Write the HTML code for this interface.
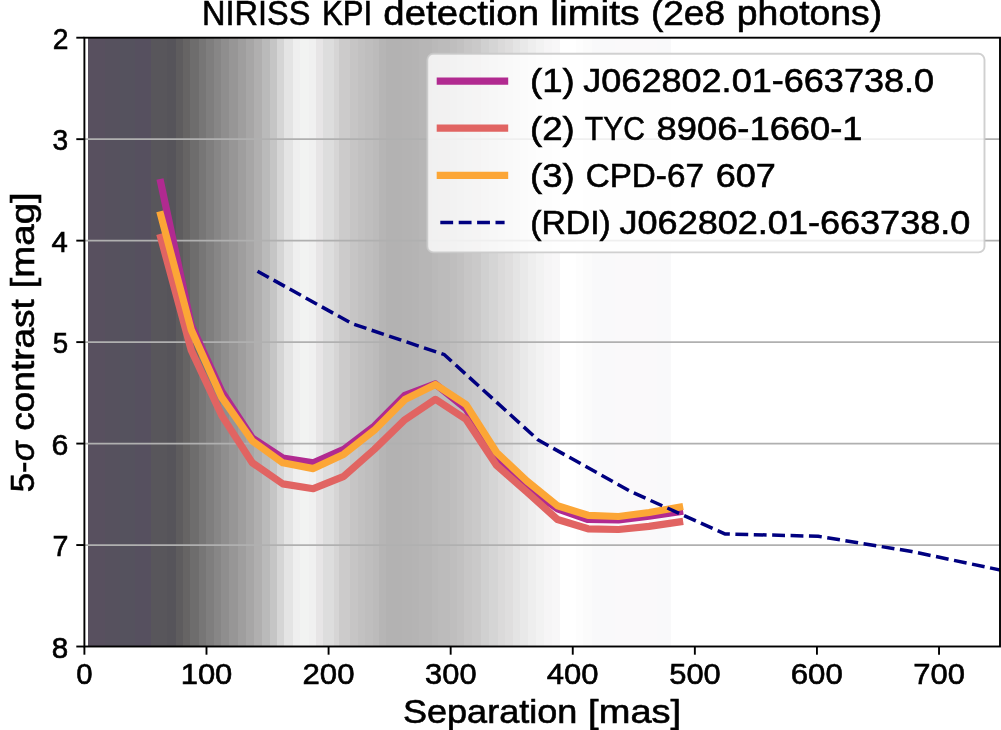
<!DOCTYPE html>
<html><head><meta charset="utf-8"><style>
html,body{margin:0;padding:0;background:#fff;width:1001px;height:730px;overflow:hidden}
svg{display:block;will-change:transform}
text{font-family:"Liberation Sans",sans-serif;fill:#000;stroke:#000;stroke-width:0.6px}
</style></head><body>
<svg width="1001" height="730" viewBox="0 0 1001 730">
<defs><clipPath id="ax"><rect x="84.4" y="37.7" width="915.6" height="608.8"/></clipPath></defs>
<g shape-rendering="crispEdges">
<rect x="88.4" y="37.7" width="16.4" height="608.8" fill="#58505f"/>
<rect x="104.8" y="37.7" width="15.2" height="608.8" fill="#56515e"/>
<rect x="120" y="37.7" width="15" height="608.8" fill="#55525e"/>
<rect x="135" y="37.7" width="16" height="608.8" fill="#56505f"/>
<rect x="151" y="37.7" width="16" height="608.8" fill="#58565b"/>
<rect x="167" y="37.7" width="9" height="608.8" fill="#56545a"/>
<rect x="176" y="37.7" width="7" height="608.8" fill="#5e5c5e"/>
<rect x="183" y="37.7" width="7" height="608.8" fill="#666464"/>
<rect x="190" y="37.7" width="9" height="608.8" fill="#6e6d6d"/>
<rect x="199" y="37.7" width="7" height="608.8" fill="#777676"/>
<rect x="206" y="37.7" width="8" height="608.8" fill="#7f7e7e"/>
<rect x="214" y="37.7" width="7" height="608.8" fill="#878686"/>
<rect x="221" y="37.7" width="8" height="608.8" fill="#8f8e8e"/>
<rect x="229" y="37.7" width="8.5" height="608.8" fill="#979696"/>
<rect x="237.5" y="37.7" width="8.1" height="608.8" fill="#9f9e9e"/>
<rect x="245.6" y="37.7" width="8.5" height="608.8" fill="#a7a6a6"/>
<rect x="254.1" y="37.7" width="7.5" height="608.8" fill="#b0afaf"/>
<rect x="261.6" y="37.7" width="8" height="608.8" fill="#bababa"/>
<rect x="269.6" y="37.7" width="7.5" height="608.8" fill="#c5c5c5"/>
<rect x="277.1" y="37.7" width="6.9" height="608.8" fill="#d5d5d5"/>
<rect x="284" y="37.7" width="8.8" height="608.8" fill="#e4e4e4"/>
<rect x="292.8" y="37.7" width="7.6" height="608.8" fill="#efefef"/>
<rect x="300.4" y="37.7" width="8.3" height="608.8" fill="#f2f3f2"/>
<rect x="308.7" y="37.7" width="7.5" height="608.8" fill="#f0f0f0"/>
<rect x="316.2" y="37.7" width="6.9" height="608.8" fill="#e7e5e6"/>
<rect x="323.1" y="37.7" width="10.4" height="608.8" fill="#dddddd"/>
<rect x="333.5" y="37.7" width="5.6" height="608.8" fill="#d6d5d5"/>
<rect x="339.1" y="37.7" width="11.2" height="608.8" fill="#cccbcb"/>
<rect x="350.3" y="37.7" width="7.2" height="608.8" fill="#c6c5c5"/>
<rect x="357.5" y="37.7" width="7.2" height="608.8" fill="#c2c1c1"/>
<rect x="364.7" y="37.7" width="8" height="608.8" fill="#bfbebe"/>
<rect x="372.7" y="37.7" width="6.4" height="608.8" fill="#bcbbbb"/>
<rect x="379.1" y="37.7" width="6.4" height="608.8" fill="#b6b5b5"/>
<rect x="385.5" y="37.7" width="8.5" height="608.8" fill="#b3b2b2"/>
<rect x="394" y="37.7" width="8" height="608.8" fill="#b3b2b2"/>
<rect x="402" y="37.7" width="9.6" height="608.8" fill="#b4b3b3"/>
<rect x="411.6" y="37.7" width="7.2" height="608.8" fill="#b5b4b4"/>
<rect x="418.8" y="37.7" width="13.6" height="608.8" fill="#b7b6b6"/>
<rect x="432.4" y="37.7" width="5.6" height="608.8" fill="#bab9b9"/>
<rect x="438" y="37.7" width="12" height="608.8" fill="#bcbbbb"/>
<rect x="450" y="37.7" width="7" height="608.8" fill="#bfbebe"/>
<rect x="457" y="37.7" width="7" height="608.8" fill="#c2c1c1"/>
<rect x="464" y="37.7" width="8" height="608.8" fill="#c7c6c6"/>
<rect x="472" y="37.7" width="9" height="608.8" fill="#cac9c9"/>
<rect x="481" y="37.7" width="8" height="608.8" fill="#d0d0d0"/>
<rect x="489" y="37.7" width="9" height="608.8" fill="#d5d5d5"/>
<rect x="498" y="37.7" width="7" height="608.8" fill="#dbdada"/>
<rect x="505" y="37.7" width="8" height="608.8" fill="#dfdede"/>
<rect x="513" y="37.7" width="7" height="608.8" fill="#e4e4e4"/>
<rect x="520" y="37.7" width="8" height="608.8" fill="#e9e9e9"/>
<rect x="528" y="37.7" width="8" height="608.8" fill="#eeeeee"/>
<rect x="536" y="37.7" width="8" height="608.8" fill="#f2f2f2"/>
<rect x="544" y="37.7" width="8" height="608.8" fill="#f6f5f6"/>
<rect x="552" y="37.7" width="8" height="608.8" fill="#f8f7f8"/>
<rect x="576" y="37.7" width="7" height="608.8" fill="#fdfdfd"/>
<rect x="583" y="37.7" width="9" height="608.8" fill="#fbfbfb"/>
<rect x="592" y="37.7" width="7" height="608.8" fill="#f9f9fa"/>
<rect x="599" y="37.7" width="16" height="608.8" fill="#f9f9fa"/>
<rect x="615" y="37.7" width="42" height="608.8" fill="#faf9fa"/>
<rect x="657" y="37.7" width="13.6" height="608.8" fill="#f9f9fa"/>
</g>
<g clip-path="url(#ax)">
<line x1="84.4" y1="139.17" x2="1000" y2="139.17" stroke="#b0b0b0" stroke-width="1.8"/>
<line x1="84.4" y1="240.64" x2="1000" y2="240.64" stroke="#b0b0b0" stroke-width="1.8"/>
<line x1="84.4" y1="342.11" x2="1000" y2="342.11" stroke="#b0b0b0" stroke-width="1.8"/>
<line x1="84.4" y1="443.58" x2="1000" y2="443.58" stroke="#b0b0b0" stroke-width="1.8"/>
<line x1="84.4" y1="545.05" x2="1000" y2="545.05" stroke="#b0b0b0" stroke-width="1.8"/>
<polyline points="160.71,182.5 191.23,325 221.75,391.6 252.27,437.9 282.8,458.1 313.32,462.8 343.84,449.4 374.36,426 404.89,395.3 435.41,384 465.93,408.7 496.45,458.6 526.98,487.3 557.5,508.8 588.02,519.5 618.54,519.9 649.07,516.2 679.59,511.7" fill="none" stroke="#b12a90" stroke-width="7.2" stroke-linejoin="round" stroke-linecap="square"/>
<polyline points="160.71,237.5 191.23,350.3 221.75,415.6 252.27,462.8 282.8,483.9 313.32,488.7 343.84,476.3 374.36,449.4 404.89,419.7 435.41,399.3 465.93,419.2 496.45,465.3 526.98,492.1 557.5,519.5 588.02,528.8 618.54,529.5 649.07,526.4 679.59,521.9" fill="none" stroke="#e16462" stroke-width="7.2" stroke-linejoin="round" stroke-linecap="square"/>
<polyline points="160.71,214.9 191.23,329.7 221.75,397.4 252.27,440.8 282.8,462.8 313.32,468.6 343.84,454.2 374.36,430.2 404.89,399.6 435.41,384.5 465.93,404.4 496.45,452.3 526.98,481.1 557.5,505.8 588.02,515.3 618.54,516.5 649.07,512.5 679.59,507.1" fill="none" stroke="#fca636" stroke-width="7.2" stroke-linejoin="round" stroke-linecap="square"/>
<polyline points="257.5,271.2 352,323.6 444.4,354.7 537.9,439.8 631.3,491.8 724.8,533.9 818.2,536.3 911.7,551.5 1005,571" fill="none" stroke="#000080" stroke-width="3.5" stroke-dasharray="12.85 5.55" stroke-linejoin="round" stroke-linecap="butt"/>
</g>
<rect x="427.3" y="53.8" width="557.2" height="198.6" rx="6" ry="6" fill="#ffffff" fill-opacity="0.8" stroke="#c8c8c8" stroke-opacity="0.85" stroke-width="1.9"/>
<line x1="440.3" y1="81.1" x2="504.6" y2="81.1" stroke="#b12a90" stroke-width="7.2" stroke-linecap="square"/>
<text x="530.13" y="92.40" font-size="33.40" textLength="44.66" lengthAdjust="spacingAndGlyphs">(1)</text><text x="583.31" y="92.40" font-size="33.40" textLength="350.82" lengthAdjust="spacingAndGlyphs">J062802.01-663738.0</text>
<line x1="440.3" y1="128.2" x2="504.6" y2="128.2" stroke="#e16462" stroke-width="7.2" stroke-linecap="square"/>
<text x="530.13" y="139.60" font-size="33.40" textLength="44.66" lengthAdjust="spacingAndGlyphs">(2)</text><text x="584.77" y="139.60" font-size="33.40" textLength="60.30" lengthAdjust="spacingAndGlyphs">TYC</text><text x="656.53" y="139.60" font-size="33.40" textLength="206.07" lengthAdjust="spacingAndGlyphs">8906-1660-1</text>
<line x1="440.3" y1="175.4" x2="504.6" y2="175.4" stroke="#fca636" stroke-width="7.2" stroke-linecap="square"/>
<text x="530.13" y="186.80" font-size="33.40" textLength="44.66" lengthAdjust="spacingAndGlyphs">(3)</text><text x="585.67" y="186.80" font-size="33.40" textLength="118.23" lengthAdjust="spacingAndGlyphs">CPD-67</text><text x="715.65" y="186.80" font-size="33.40" textLength="60.18" lengthAdjust="spacingAndGlyphs">607</text>
<line x1="440.3" y1="222.4" x2="504.6" y2="222.4" stroke="#000080" stroke-width="3.5" stroke-dasharray="12.85 5.55"/>
<text x="530.31" y="234.00" font-size="33.40" textLength="80.53" lengthAdjust="spacingAndGlyphs">(RDI)</text><text x="619.54" y="234.00" font-size="33.40" textLength="350.82" lengthAdjust="spacingAndGlyphs">J062802.01-663738.0</text>
<rect x="84.4" y="37.7" width="915.6" height="608.8" fill="none" stroke="#000" stroke-width="1.9" stroke-linejoin="miter"/>
<g stroke="#000" stroke-width="1.9">
<line x1="84.4" y1="646.5" x2="84.4" y2="654.7"/>
<line x1="206.49" y1="646.5" x2="206.49" y2="654.7"/>
<line x1="328.58" y1="646.5" x2="328.58" y2="654.7"/>
<line x1="450.67" y1="646.5" x2="450.67" y2="654.7"/>
<line x1="572.76" y1="646.5" x2="572.76" y2="654.7"/>
<line x1="694.85" y1="646.5" x2="694.85" y2="654.7"/>
<line x1="816.94" y1="646.5" x2="816.94" y2="654.7"/>
<line x1="939.03" y1="646.5" x2="939.03" y2="654.7"/>
<line x1="84.4" y1="37.7" x2="76.3" y2="37.7"/>
<line x1="84.4" y1="139.17" x2="76.3" y2="139.17"/>
<line x1="84.4" y1="240.64" x2="76.3" y2="240.64"/>
<line x1="84.4" y1="342.11" x2="76.3" y2="342.11"/>
<line x1="84.4" y1="443.58" x2="76.3" y2="443.58"/>
<line x1="84.4" y1="545.05" x2="76.3" y2="545.05"/>
<line x1="84.4" y1="646.52" x2="76.3" y2="646.52"/>
</g>
<text x="202.04" y="25.20" font-size="34.27" textLength="108.31" lengthAdjust="spacingAndGlyphs">NIRISS</text><text x="321.89" y="25.20" font-size="34.27" textLength="50.35" lengthAdjust="spacingAndGlyphs">KPI</text><text x="383.33" y="25.20" font-size="34.27" textLength="155.69" lengthAdjust="spacingAndGlyphs">detection</text><text x="550.33" y="25.20" font-size="34.27" textLength="89.33" lengthAdjust="spacingAndGlyphs">limits</text><text x="650.92" y="25.20" font-size="34.27" textLength="74.15" lengthAdjust="spacingAndGlyphs">(2e8</text><text x="736.84" y="25.20" font-size="34.27" textLength="145.40" lengthAdjust="spacingAndGlyphs">photons)</text>
<text x="402.96" y="723.20" font-size="33.41" textLength="174.46" lengthAdjust="spacingAndGlyphs">Separation</text><text x="588.13" y="723.20" font-size="33.41" textLength="93.03" lengthAdjust="spacingAndGlyphs">[mas]</text>
<text x="76.25" y="684.00" font-size="28.78" textLength="16.29" lengthAdjust="spacingAndGlyphs">0</text>
<text x="180.67" y="684.00" font-size="28.78" textLength="51.70" lengthAdjust="spacingAndGlyphs">100</text>
<text x="302.54" y="684.00" font-size="28.78" textLength="51.92" lengthAdjust="spacingAndGlyphs">200</text>
<text x="425.10" y="684.00" font-size="28.78" textLength="51.44" lengthAdjust="spacingAndGlyphs">300</text>
<text x="546.89" y="684.00" font-size="28.78" textLength="51.75" lengthAdjust="spacingAndGlyphs">400</text>
<text x="669.25" y="684.00" font-size="28.78" textLength="51.48" lengthAdjust="spacingAndGlyphs">500</text>
<text x="790.78" y="684.00" font-size="28.78" textLength="52.04" lengthAdjust="spacingAndGlyphs">600</text>
<text x="913.21" y="684.00" font-size="28.78" textLength="51.70" lengthAdjust="spacingAndGlyphs">700</text>
<text x="52.72" y="48.90" font-size="28.78" textLength="15.70" lengthAdjust="spacingAndGlyphs">2</text>
<text x="52.60" y="150.37" font-size="28.78" textLength="15.64" lengthAdjust="spacingAndGlyphs">3</text>
<text x="51.57" y="251.84" font-size="28.78" textLength="16.29" lengthAdjust="spacingAndGlyphs">4</text>
<text x="52.79" y="353.31" font-size="28.78" textLength="15.37" lengthAdjust="spacingAndGlyphs">5</text>
<text x="51.48" y="454.78" font-size="28.78" textLength="16.86" lengthAdjust="spacingAndGlyphs">6</text>
<text x="52.51" y="556.25" font-size="28.78" textLength="15.93" lengthAdjust="spacingAndGlyphs">7</text>
<text x="51.82" y="657.72" font-size="28.78" textLength="16.46" lengthAdjust="spacingAndGlyphs">8</text>
<g transform="translate(34.4,490.9) rotate(-90)"><text x="-1.39" y="0.00" font-size="33.22" textLength="30.86" lengthAdjust="spacingAndGlyphs">5-</text><text x="29.94" y="0.00" font-size="33.22" textLength="19.67" lengthAdjust="spacingAndGlyphs" font-style="italic">σ</text><text x="60.20" y="0.00" font-size="33.22" textLength="131.54" lengthAdjust="spacingAndGlyphs">contrast</text><text x="202.44" y="0.00" font-size="33.22" textLength="96.22" lengthAdjust="spacingAndGlyphs">[mag]</text></g>
</svg>
</body></html>
